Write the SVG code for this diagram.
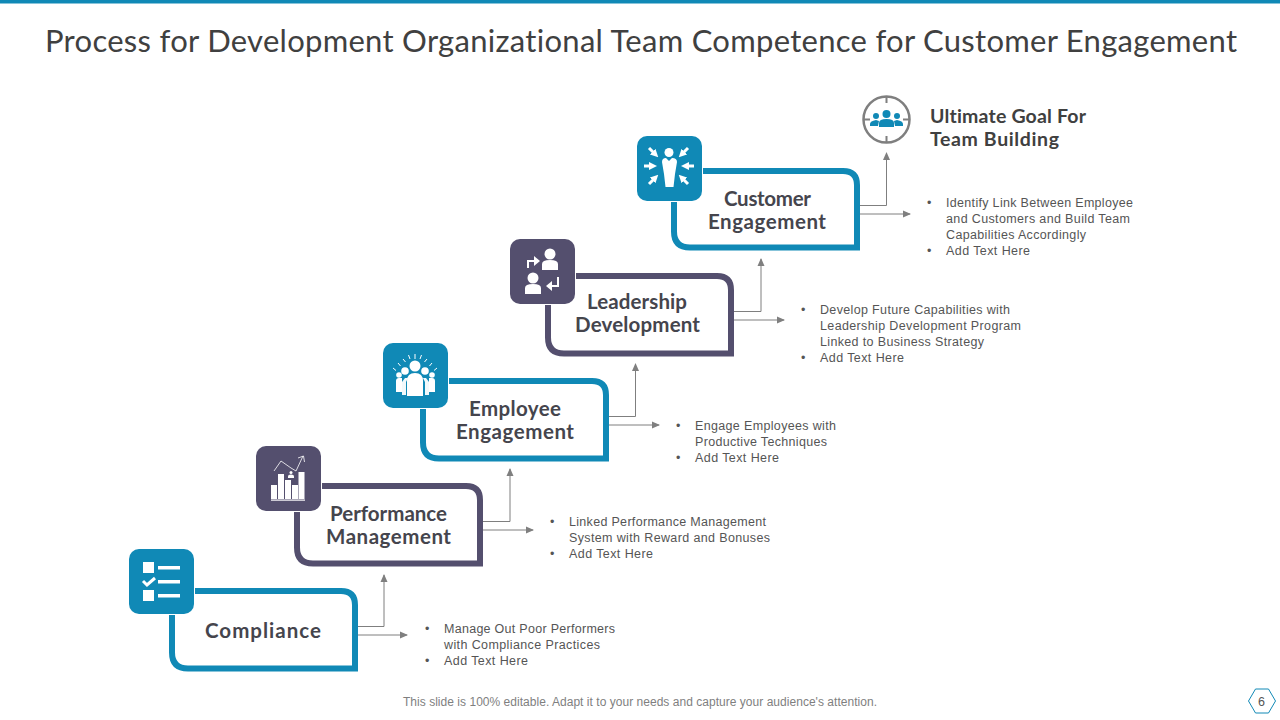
<svg xmlns="http://www.w3.org/2000/svg" width="1280" height="720" viewBox="0 0 1280 720">
<style>
.t{font-family:"Lato","Liberation Sans",sans-serif;fill:#404040;font-variant-ligatures:none}
.title{font-size:31px}
.lab{font-size:20.500px;font-weight:700;text-anchor:middle;fill:#45454d}
.goal{font-size:19.500px;font-weight:700}
.b{font-family:"Liberation Sans",Arial,sans-serif;font-size:12.500px;fill:#555}
.blue .box{stroke:#1089b6}.pur .box{stroke:#544f6e}
.box{fill:none;stroke-width:6}
.blue .ic{fill:#1089b6}.pur .ic{fill:#544f6e}
.w{fill:#fff}.wl{fill:none;stroke:#fff;stroke-width:2}
.ar{fill:none;stroke:#7f7f7f;stroke-width:1}
</style>
<defs>
<marker id="a" markerWidth="8" markerHeight="8" refX="7" refY="4" orient="auto" markerUnits="userSpaceOnUse" viewBox="0 0 8 8"><path d="M0 0.500L8 4L0 7.500z" fill="#7f7f7f"/></marker>
<marker id="w" markerWidth="8" markerHeight="8" refX="2" refY="4" orient="auto" markerUnits="userSpaceOnUse" viewBox="0 0 8 8"><path d="M0 0L8 4L0 8z" fill="#fff"/></marker>
</defs>
<rect width="1280" height="3.500" fill="#1089b6"/>
<text class="t title" x="45" y="52" textLength="1192">Process for Development Organizational Team Competence for Customer Engagement</text>

<g id="connectors">
<path class="ar" marker-end="url(#a)" d="M358 626.500H384V575"/><path class="ar" marker-end="url(#a)" d="M358 635H407"/>
<path class="ar" marker-end="url(#a)" d="M483 521.500H510V469"/><path class="ar" marker-end="url(#a)" d="M483 530H533"/>
<path class="ar" marker-end="url(#a)" d="M609 416.500H635.500V364"/><path class="ar" marker-end="url(#a)" d="M609 425H659"/>
<path class="ar" marker-end="url(#a)" d="M734 311.500H761V259"/><path class="ar" marker-end="url(#a)" d="M734 320H784"/>
<path class="ar" marker-end="url(#a)" d="M860 205.500H886.500V153"/><path class="ar" marker-end="url(#a)" d="M860 214H910"/>
</g>

<g id="compliance" class="blue">
<path class="box" d="M195 591H341Q355 591 355 605V668.500H188Q172 668.500 172 652.500V615"/>
<rect class="ic" x="129" y="549" width="65" height="65" rx="10"/>
<path class="w" d="M143 562h11v11h-11zM143 590h11v11h-11zM158 566h22v3.500h-22zM158 580h22v3.500h-22zM158 594h22v3.500h-22z"/>
<path class="wl" style="stroke-width:3" d="M143 581l4 4 8-7"/>
<text class="t lab" x="263" y="637.500" textLength="116">Compliance</text>
<text class="b" x="425" y="633">•</text><text class="b" x="444" y="633" textLength="171">Manage Out Poor Performers</text>
<text class="b" x="444" y="649" textLength="156">with Compliance Practices</text>
<text class="b" x="425" y="665">•</text><text class="b" x="444" y="665" textLength="84">Add Text Here</text>
</g>

<g id="performance" class="pur">
<path class="box" d="M322 486H466Q480 486 480 500V563.500H313Q297 563.500 297 547.500V512"/>
<rect class="ic" x="256" y="446" width="65" height="65" rx="10"/>
<rect class="w" x="271" y="485" width="6" height="14"/><rect class="w" x="278" y="474" width="6" height="25"/><rect class="w" x="285" y="480" width="6" height="19"/><rect class="w" x="292" y="485" width="6" height="14"/><rect class="w" x="298.500" y="472" width="6" height="27"/><rect class="w" x="271" y="499.500" width="34" height="1.200"/>
<circle class="w" cx="291" cy="472.500" r="1.500"/><path class="w" d="M288 478v-1.500q0-2 3-2t3 2v1.500z"/>
<path d="M274 471l7-10 10 7 5 3 7-15M298 458l5.500-2 1 6" fill="none" stroke="#fff" stroke-width=".8"/>
<text class="t lab" x="388.500" y="520.500" textLength="117">Performance</text><text class="t lab" x="388.500" y="543.500" textLength="125">Management</text>
<text class="b" x="550" y="526">•</text><text class="b" x="569" y="526" textLength="197">Linked Performance Management</text>
<text class="b" x="569" y="542" textLength="201">System with Reward and Bonuses</text>
<text class="b" x="550" y="558">•</text><text class="b" x="569" y="558" textLength="84">Add Text Here</text>
</g>

<g id="employee" class="blue">
<path class="box" d="M449 381H592Q606 381 606 395V458.500H439Q423 458.500 423 442.500V409"/>
<rect class="ic" x="383" y="343" width="65" height="65" rx="10"/>
<path class="w" d="M402 395V382l3-4h3l-2 4v13zM429 395V382l-3-4h-3l2 4v13z" opacity=".95"/>
<path class="w" d="M396 392V381q0-3 3-3h3v14zM435 392V381q0-3-3-3h-3v14z"/>
<circle class="w" cx="399" cy="375" r="2.800"/><circle class="w" cx="432" cy="375" r="2.800"/>
<circle class="w" cx="405" cy="371" r="3.800"/><circle class="w" cx="425" cy="371" r="3.800"/>
<circle class="w" cx="415" cy="366" r="5.500"/><path class="w" d="M407 396V381q0-8 8-8t8 8v15z"/>
<path class="wl" style="stroke-width:1" d="M415 354v5M408.500 355l1.500 4M421.500 355l-1.500 4M403 359l2.500 3M427 359l-2.500 3M398 363l2.500 3M432 363l-2.500 3M393 368l3 2.500M437 368l-3 2.500"/>
<text class="t lab" x="515" y="415.500" textLength="92">Employee</text><text class="t lab" x="515" y="438.500" textLength="118">Engagement</text>
<text class="b" x="676" y="430">•</text><text class="b" x="695" y="430" textLength="141">Engage Employees with</text>
<text class="b" x="695" y="446" textLength="132">Productive Techniques</text>
<text class="b" x="676" y="462">•</text><text class="b" x="695" y="462" textLength="84">Add Text Here</text>
</g>

<g id="leadership" class="pur">
<path class="box" d="M576 276H717Q731 276 731 290V353.500H564Q548 353.500 548 337.500V305"/>
<rect class="ic" x="510" y="239" width="65" height="65" rx="10"/>
<circle class="w" cx="550" cy="254" r="5.500"/><path class="w" d="M542 270v-6q0-4 8-4t8 4v6z"/>
<circle class="w" cx="533" cy="278" r="5.500"/><path class="w" d="M525 294v-6q0-4 8-4t8 4v6z"/>
<path class="wl" d="M528 268v-7h7"/><path class="w" d="M534 256l6 5-6 5z"/>
<path class="wl" d="M558 277v9h-8"/><path class="w" d="M552 281l-6 5 6 5z"/>
<text class="t lab" x="637" y="308.500" textLength="100">Leadership</text><text class="t lab" x="637.500" y="331.500" textLength="125">Development</text>
<text class="b" x="801" y="314">•</text><text class="b" x="820" y="314" textLength="190">Develop Future Capabilities with</text>
<text class="b" x="820" y="330" textLength="201">Leadership Development Program</text>
<text class="b" x="820" y="346" textLength="164">Linked to Business Strategy</text>
<text class="b" x="801" y="362">•</text><text class="b" x="820" y="362" textLength="84">Add Text Here</text>
</g>

<g id="customer" class="blue">
<path class="box" d="M703 171H843Q857 171 857 185V247.500H690Q674 247.500 674 231.500V202"/>
<rect class="ic" x="637" y="136" width="65" height="65" rx="10"/>
<circle class="w" cx="669" cy="152.500" r="4.500"/><path class="w" d="M662 162q0-4 4-4l3 3 3-3q5 0 5 4l-2 12-1.500 13h-8l-1.500-13z"/>
<path class="wl" style="stroke-width:3" marker-end="url(#w)" d="M649 148l5 5"/>
<path class="wl" style="stroke-width:3" marker-end="url(#w)" d="M688 148l-5 5"/>
<path class="wl" style="stroke-width:3" marker-end="url(#w)" d="M649 184l5-5"/>
<path class="wl" style="stroke-width:3" marker-end="url(#w)" d="M688 184l-5-5"/>
<path class="wl" style="stroke-width:3" marker-end="url(#w)" d="M644 166h7"/>
<path class="wl" style="stroke-width:3" marker-end="url(#w)" d="M694 166h-7"/>
<text class="t lab" x="767.500" y="205.500" textLength="87">Customer</text><text class="t lab" x="767" y="228.500" textLength="118">Engagement</text>
<text class="b" x="927" y="207">•</text><text class="b" x="946" y="207" textLength="187">Identify Link Between Employee</text>
<text class="b" x="946" y="223" textLength="184">and Customers and Build Team</text>
<text class="b" x="946" y="239" textLength="140">Capabilities Accordingly</text>
<text class="b" x="927" y="255">•</text><text class="b" x="946" y="255" textLength="84">Add Text Here</text>
</g>

<g id="goal">
<circle cx="886.500" cy="119.500" r="23" fill="#fff" stroke="#7f7f7f" stroke-width="2.500"/>
<path d="M886.500 96v7M886.500 136v7M863 119.500h7M903 119.500h7" stroke="#7f7f7f" stroke-width="2"/>
<g fill="#1089b6"><circle cx="886.500" cy="114" r="4"/><path d="M879 127v-4q0-4 7.500-4t7.500 4v4z"/><circle cx="876" cy="116" r="3"/><circle cx="897" cy="116" r="3"/><path d="M870 126v-2q0-3 6-4l3 1-1 5zM903 126v-2q0-3-6-4l-3 1 1 5z"/></g>
<text class="t goal" x="930" y="123" textLength="156">Ultimate Goal For</text><text class="t goal" x="930" y="146" textLength="129">Team Building</text>
</g>

<text class="b" x="403" y="706" style="fill:#7f7f7f;font-size:12px" textLength="474">This slide is 100% editable. Adapt it to your needs and capture your audience's attention.</text>
<g id="page"><path d="M1255.500 689h13l7 12-7 12h-13l-7-12z" fill="#fff" stroke="#1089b6"/><text class="b" x="1261.500" y="705.500" text-anchor="middle">6</text></g>
</svg>
